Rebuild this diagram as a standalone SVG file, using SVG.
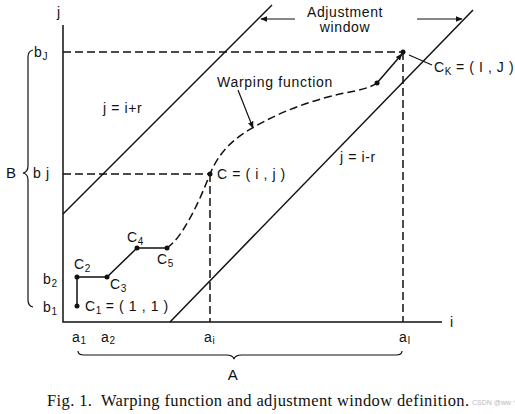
<svg xmlns="http://www.w3.org/2000/svg" width="515" height="414" viewBox="0 0 515 414">
<defs>
<style>
.ln{stroke:#111;stroke-width:1.5;fill:none}
.dash{stroke:#111;stroke-width:1.5;fill:none;stroke-dasharray:8 4}
.t{font-family:"Liberation Sans","DejaVu Sans",sans-serif;font-size:14px;fill:#111;letter-spacing:0.6px}
.s{font-size:10px;letter-spacing:0}
.cap{font-family:"Liberation Serif","Times New Roman",serif;font-size:16.5px;fill:#111}
.pt{fill:#111}
</style>
<marker id="ah" viewBox="0 0 10 10" refX="9" refY="5" markerWidth="7" markerHeight="7" orient="auto" markerUnits="userSpaceOnUse">
<path d="M0,1 L10,5 L0,9 Z" fill="#111"/>
</marker>
</defs>
<rect width="515" height="414" fill="#fff"/>

<g id="connectors">
<path class="ln" d="M63,25 V322 H442"/>
<path class="ln" d="M63,214 L272,5"/>
<path class="ln" d="M170,322 L473,10"/>
<path class="dash" d="M63,52 H403"/>
<path class="dash" d="M63,174 H210"/>
<path class="dash" d="M210,174 V322"/>
<path class="dash" d="M403,52 V322"/>
<path class="ln" d="M77,306 V277 H107 L137,248 H167"/>
<path class="dash" d="M167,248 C182,238 198,205 210,174 C222,145 242,133 265,121 C290,108 320,98 345,93 C360,90 370,88 377,83"/>
<path class="ln" d="M377,83 L402,54" marker-end="url(#ah)"/>
<path class="ln" d="M238,90 L253,128" marker-end="url(#ah)" style="stroke-width:1.2"/>
<path class="ln" d="M432,65 L409,55" style="stroke-width:1.2"/>
<path class="ln" d="M295,19 H261" marker-end="url(#ah)" style="stroke-width:1.2"/>
<path class="ln" d="M417,19 H462" marker-end="url(#ah)" style="stroke-width:1.2"/>
<path class="ln" d="M33,50 Q28,51 28,57 V166 Q28,172 23,173 Q28,174 28,180 V300 Q28,306 33,307" style="stroke-width:1.2"/>
<path class="ln" d="M78,351 Q78,355 84,355 H226 Q233,355 234,359 Q235,355 242,355 H396 Q402,355 402,351" style="stroke-width:1.2"/>
</g>

<g id="points">
<circle class="pt" cx="77" cy="306" r="2.5"/>
<circle class="pt" cx="77" cy="277" r="2.5"/>
<circle class="pt" cx="107" cy="277" r="2.5"/>
<circle class="pt" cx="137" cy="248" r="2.5"/>
<circle class="pt" cx="167" cy="248" r="2.5"/>
<circle class="pt" cx="210" cy="174" r="2.5"/>
<circle class="pt" cx="377" cy="83" r="2.5"/>
<circle class="pt" cx="403" cy="52" r="2.5"/>
</g>

<g id="labels">
<text class="t" x="57" y="17">j</text>
<text class="t" x="450" y="327">i</text>
<text class="t" x="345" y="17" text-anchor="middle">Adjustment</text>
<text class="t" x="345" y="32" text-anchor="middle">window</text>
<text class="t" x="217" y="87" textLength="116">Warping function</text>
<text class="t" x="103" y="113">j = i+r</text>
<text class="t" x="340" y="162">j = i-r</text>
<text class="t" x="217" y="179">C = ( i , j )</text>
<text class="t" x="434" y="72">C<tspan class="s" dy="3">K</tspan><tspan dy="-3"> = ( I , J )</tspan></text>
<text class="t" x="34" y="57">b<tspan class="s" dy="3">J</tspan></text>
<text class="t" x="33" y="178">b j</text>
<text class="t" x="6" y="178" style="font-size:15px">B</text>
<text class="t" x="43" y="284">b<tspan class="s" dy="3">2</tspan></text>
<text class="t" x="43" y="312">b<tspan class="s" dy="3">1</tspan></text>
<text class="t" x="85" y="311">C<tspan class="s" dy="3">1</tspan><tspan dy="-3"> = ( 1 , 1 )</tspan></text>
<text class="t" x="74" y="269">C<tspan class="s" dy="3">2</tspan></text>
<text class="t" x="110" y="289">C<tspan class="s" dy="3">3</tspan></text>
<text class="t" x="127" y="242">C<tspan class="s" dy="3">4</tspan></text>
<text class="t" x="157" y="264">C<tspan class="s" dy="3">5</tspan></text>
<text class="t" x="72" y="342">a<tspan class="s" dy="2">1</tspan></text>
<text class="t" x="101" y="342">a<tspan class="s" dy="2">2</tspan></text>
<text class="t" x="204" y="342">a<tspan class="s" dy="2">i</tspan></text>
<text class="t" x="399" y="342">a<tspan class="s" dy="2">I</tspan></text>
<text class="t" x="233" y="380" text-anchor="middle" style="font-size:15px">A</text>
<text class="cap" x="47" y="406" textLength="422">Fig. 1.&#160; Warping function and adjustment window definition.</text>
<text x="472" y="405" style="font-family:'Liberation Sans',sans-serif;font-size:7px;fill:#bbb">CSDN @ww ^</text>
</g>
</svg>
